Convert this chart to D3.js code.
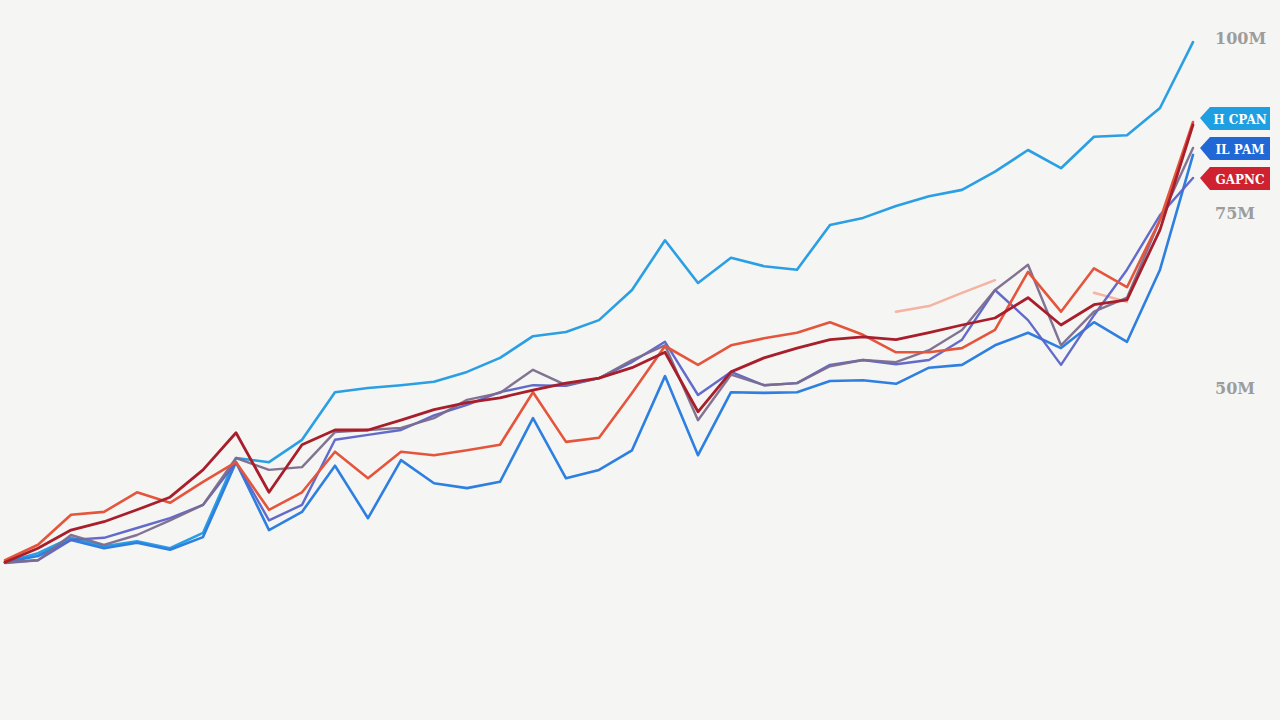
<!DOCTYPE html>
<html>
<head>
<meta charset="utf-8">
<script src="https://cdn.jsdelivr.net/npm/d3@7/dist/d3.min.js"></script>
<style>
  html, body { margin: 0; padding: 0; background: #f5f5f4; }
  svg { display: block; }
</style>
</head>
<body>
<svg id="chart" width="1280" height="720"></svg>
<script>
// ---- data ----
const periods = ["2021-01","2021-02","2021-03","2021-04","2021-05","2021-06","2021-07","2021-08","2021-09","2021-10","2021-11","2021-12",
  "2022-01","2022-02","2022-03","2022-04","2022-05","2022-06","2022-07","2022-08","2022-09","2022-10","2022-11","2022-12",
  "2023-01","2023-02","2023-03","2023-04","2023-05","2023-06","2023-07","2023-08","2023-09","2023-10","2023-11","2023-12","2024-01"];

const seriesSkyBlue = [25.1, 26.4, 28.6, 27.4, 28.1, 27.1, 29.3, 40.0, 39.4, 42.6, 49.4, 50.0, 50.4, 50.9, 52.3, 54.3, 57.4, 58.0, 59.7, 64.0, 71.1, 65.0, 68.6, 67.4, 66.9, 73.3, 74.3, 76.0, 77.4, 78.3, 80.9, 84.0, 81.4, 85.9, 86.1, 90.0, 99.4];
const seriesBlue = [25.1, 26.0, 28.3, 27.1, 27.9, 26.9, 28.7, 39.4, 29.7, 32.3, 38.9, 31.4, 39.7, 36.4, 35.7, 36.6, 45.7, 37.1, 38.3, 41.1, 51.7, 40.4, 49.4, 49.3, 49.4, 51.0, 51.1, 50.6, 52.9, 53.3, 56.1, 57.9, 55.7, 59.4, 56.6, 66.9, 83.3];
const seriesRed = [25.4, 27.6, 31.9, 32.3, 35.1, 33.6, 36.6, 39.4, 32.6, 35.1, 40.9, 37.1, 40.9, 40.4, 41.1, 41.9, 49.4, 42.3, 42.9, 49.3, 56.0, 53.3, 56.1, 57.1, 57.9, 59.4, 57.6, 55.1, 55.1, 55.7, 58.3, 66.6, 60.9, 67.1, 64.4, 74.0, 88.0];
const seriesDarkRed = [25.1, 27.1, 29.7, 30.9, 32.6, 34.4, 38.3, 43.6, 35.1, 41.9, 44.0, 44.0, 45.4, 46.9, 47.9, 48.6, 49.7, 50.7, 51.4, 52.9, 55.1, 46.6, 52.3, 54.3, 55.7, 56.9, 57.3, 56.9, 57.9, 59.0, 60.0, 62.9, 59.0, 61.9, 62.6, 72.6, 87.6];
const seriesGrey = [25.1, 25.4, 29.0, 27.6, 29.0, 31.1, 33.3, 40.0, 38.3, 38.7, 43.7, 44.0, 44.3, 45.7, 48.3, 49.3, 52.6, 50.4, 51.4, 54.0, 56.1, 45.4, 51.9, 50.4, 50.7, 53.1, 54.0, 53.7, 55.4, 58.3, 64.0, 67.6, 56.1, 60.9, 62.9, 74.0, 84.3];
const seriesIndigo = [25.0, 25.4, 28.3, 28.6, 30.0, 31.4, 33.3, 39.4, 31.1, 33.3, 42.6, 43.3, 44.0, 46.1, 47.6, 49.4, 50.4, 50.3, 51.4, 53.7, 56.6, 49.0, 52.3, 50.4, 50.7, 53.3, 54.0, 53.4, 54.0, 56.9, 64.0, 59.7, 53.3, 60.4, 66.9, 74.7, 80.0];
const seriesSalmon = [null, null, null, null, null, null, null, null, null, null, null, null, null, null, null, null, null, null, null, null, null, null, null, null, null, null, null, 60.9, 61.7, 63.6, 65.4, null, null, 63.6, 62.3, null, null];

const tickValues = [100, 75, 50];
const tickLabels = ["100M", "75M", "50M"];

const tagLabels = ["H CPAN", "IL PAM", "GAPNC"];

// ---- chart ----
const svg = d3.select("#chart");
svg.append("rect").attr("width", 1280).attr("height", 720).attr("fill", "#f5f5f4");

const x = d3.scalePoint().domain(periods).range([5, 1193]);
const y = d3.scaleLinear().domain([0, 100]).range([738, 38]);

const lineGen = d3.line()
  .defined(d => d.v != null)
  .x(d => x(d.p))
  .y(d => y(d.v));

const series = [
  { values: seriesSalmon, color: "#f4a792", width: 2.5, opacity: 0.85 },
  { values: seriesSkyBlue, color: "#2a9fe3", width: 2.6, opacity: 1 },
  { values: seriesBlue, color: "#2d7fe0", width: 2.6, opacity: 1 },
  { values: seriesIndigo, color: "#5a63c8", width: 2.4, opacity: 0.95 },
  { values: seriesGrey, color: "#7c6c8c", width: 2.4, opacity: 0.95 },
  { values: seriesRed, color: "#e4553b", width: 2.6, opacity: 1 },
  { values: seriesDarkRed, color: "#a81e2b", width: 2.8, opacity: 1 }
];

svg.append("g").selectAll("path")
  .data(series)
  .join("path")
  .attr("d", s => lineGen(s.values.map((v, i) => ({ p: periods[i], v }))))
  .attr("fill", "none")
  .attr("stroke", s => s.color)
  .attr("stroke-width", s => s.width)
  .attr("stroke-opacity", s => s.opacity)
  .attr("stroke-linejoin", "round")
  .attr("stroke-linecap", "round");

// right axis tick labels
const axis = d3.axisRight(y).tickValues(tickValues).tickFormat((d, i) => tickLabels[i]).tickSize(0);
const axisG = svg.append("g").attr("transform", "translate(1212,0)").call(axis);
axisG.select(".domain").remove();
axisG.selectAll("text")
  .attr("fill", "#9c9c9c")
  .attr("font-family", "DejaVu Serif, serif")
  .attr("font-weight", "bold")
  .attr("font-size", 16);

// end tags
const tagColors = ["#1e9fe2", "#2068d6", "#cf212f"];
const tagTop = [107, 137, 167];
const tagG = svg.append("g").selectAll("g")
  .data(tagLabels)
  .join("g")
  .attr("transform", (d, i) => `translate(1200,${tagTop[i]})`);
tagG.append("path")
  .attr("d", "M0,11 L10,0 L70,0 L70,23 L10,23 Z")
  .attr("fill", (d, i) => tagColors[i]);
tagG.append("text")
  .attr("x", 40).attr("y", 16.5)
  .attr("text-anchor", "middle")
  .attr("fill", "#ffffff")
  .attr("font-family", "DejaVu Serif, serif")
  .attr("font-weight", "bold")
  .attr("font-size", 12)
  .text(d => d);
</script>
</body>
</html>
